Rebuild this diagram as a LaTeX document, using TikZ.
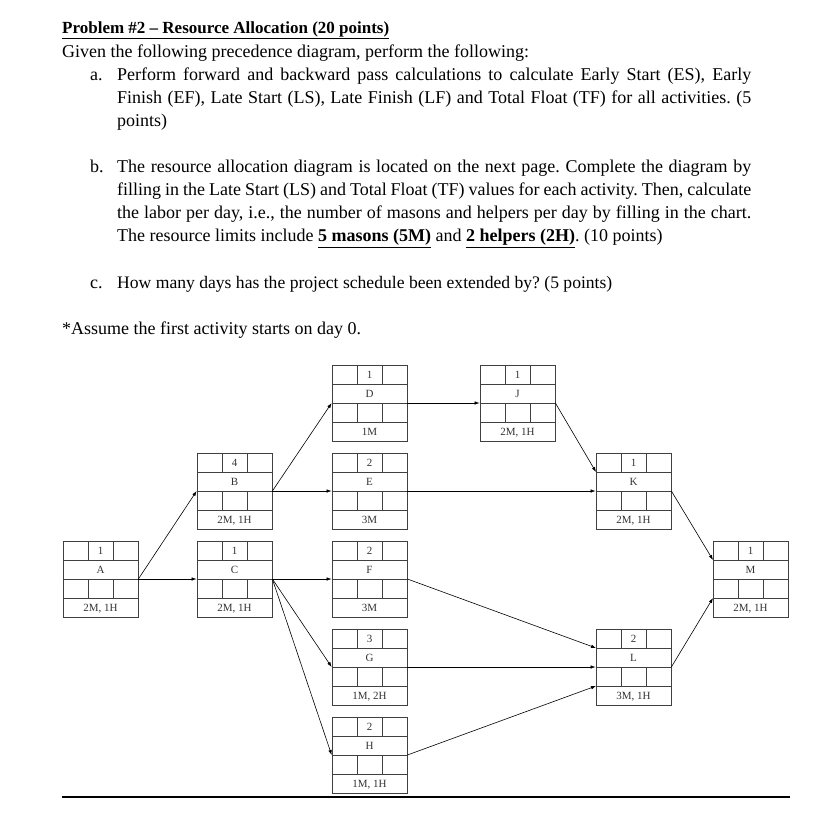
\documentclass[tikz,border=0pt]{standalone}
\usepackage{fontspec}
\setmainfont{Liberation Serif}
\usetikzlibrary{arrows.meta,calc}

\tikzset{
  actframe/.style={draw=black!75, line width=0.75pt, minimum width=75pt, minimum height=76pt, inner sep=0pt},
  cellline/.style={draw=black!75, line width=0.75pt},
  celltext/.style={anchor=base, font=\fontsize{11}{12}\selectfont, text=black!80, inner sep=0pt},
  link/.style={-{Latex[length=5pt,width=3.5pt]}, line width=0.6pt},
  bodytext/.style={anchor=base west, inner sep=0pt, font=\fontsize{18}{23.2}\selectfont},
  para/.style={bodytext, align=justify, text width=634pt}
}

% one activity box: name, left x, top y, duration, label, resources
\newcommand{\actbox}[6]{%
  \node[actframe] (#1) at (#2+37.5,#3+38) {};
  \draw[cellline] (#2,#3+19) -- ++(75,0) (#2,#3+57) -- ++(75,0);
  \draw[cellline] (#2+25,#3) -- ++(0,19) (#2+50,#3) -- ++(0,19);
  \draw[cellline] (#2+25,#3+38) -- ++(0,19) (#2+50,#3+38) -- ++(0,19);
  \draw[cellline] (#1.west) -- (#1.east);
  \coordinate (#1-in1) at (#2,#3+19);
  \coordinate (#1-in3) at (#2,#3+57);
  \node[celltext] (#1-dur) at (#2+37.5,#3+13.3) {#4};
  \node[celltext] (#1-name) at (#2+37.5,#3+32.3) {#5};
  \node[celltext] (#1-res) at (#2+37.5,#3+70.3) {#6};
}

\begin{document}
\begin{tikzpicture}[x=1pt,y=-1pt]
  \useasboundingbox (0,0) rectangle (830,820);
  \frenchspacing

  % question text
  \node[bodytext, font=\fontsize{17}{20}\selectfont] (title) at (62,33) {\underline{\textbf{Problem \#2 -- Resource Allocation (20 points)}}};
  \node[bodytext] (given) at (62,57) {Given the following precedence diagram, perform the following:};
  \node[bodytext] (lbla) at (90,80) {a.};
  \node[para] (itema) at (117,80) {Perform forward and backward pass calculations to calculate Early Start (ES), Early\linebreak
    Finish (EF), Late Start (LS), Late Finish (LF) and Total Float (TF) for all activities. (5\linebreak
    points)};
  \node[bodytext] (lblb) at (90,172) {b.};
  \node[para] (itemb) at (117,172) {The resource allocation diagram is located on the next page. Complete the diagram by\linebreak
    filling in the Late Start (LS) and Total Float (TF) values for each activity. Then, calculate\linebreak
    the labor per day, i.e., the number of masons and helpers per day by filling in the chart.\linebreak
    The resource limits include \underline{\textbf{5 masons (5M)}} and \underline{\textbf{2 helpers (2H)}}. (10 points)};
  \node[bodytext] (lblc) at (90,288) {c.};
  \node[bodytext, font=\fontsize{17.6}{20}\selectfont] (itemc) at (117,288) {How many days has the project schedule been extended by? (5 points)};
  \node[bodytext] (assume) at (62,334) {*Assume the first activity starts on day 0.};

  % activity boxes
  \actbox{A}{63}{541}{1}{A}{2M, 1H}
  \actbox{B}{197}{453}{4}{B}{2M, 1H}
  \actbox{C}{197}{541}{1}{C}{2M, 1H}
  \actbox{D}{332}{365}{1}{D}{1M}
  \actbox{E}{332}{453}{2}{E}{3M}
  \actbox{F}{332}{541}{2}{F}{3M}
  \actbox{G}{332}{629}{3}{G}{1M, 2H}
  \actbox{H}{332}{717}{2}{H}{1M, 1H}
  \actbox{J}{480}{365}{1}{J}{2M, 1H}
  \actbox{K}{596}{453}{1}{K}{2M, 1H}
  \actbox{L}{596}{629}{2}{L}{3M, 1H}
  \actbox{M}{713}{541}{1}{M}{2M, 1H}

  % precedence links
  \draw[link] (A.east) -- (B.west);
  \draw[link] (A.east) -- (C.west);
  \draw[link] (B.east) -- (D.west);
  \draw[link] (B.east) -- (E.west);
  \draw[link] (C.east) -- (F.west);
  \draw[link] (C.east) -- (G.west);
  \draw[link] (C.east) -- (H.west);
  \draw[link] (D.east) -- (J.west);
  \draw[link] (J.east) -- (K-in1);
  \draw[link] (E.east) -- (K.west);
  \draw[link] (F.east) -- (L-in1);
  \draw[link] (G.east) -- (L.west);
  \draw[link] (H.east) -- (L-in3);
  \draw[link] (K.east) -- (M-in1);
  \draw[link] (L.east) -- (M-in3);

  \draw[line width=2.6pt] (62,797) -- (790,797);
\end{tikzpicture}
\end{document}
